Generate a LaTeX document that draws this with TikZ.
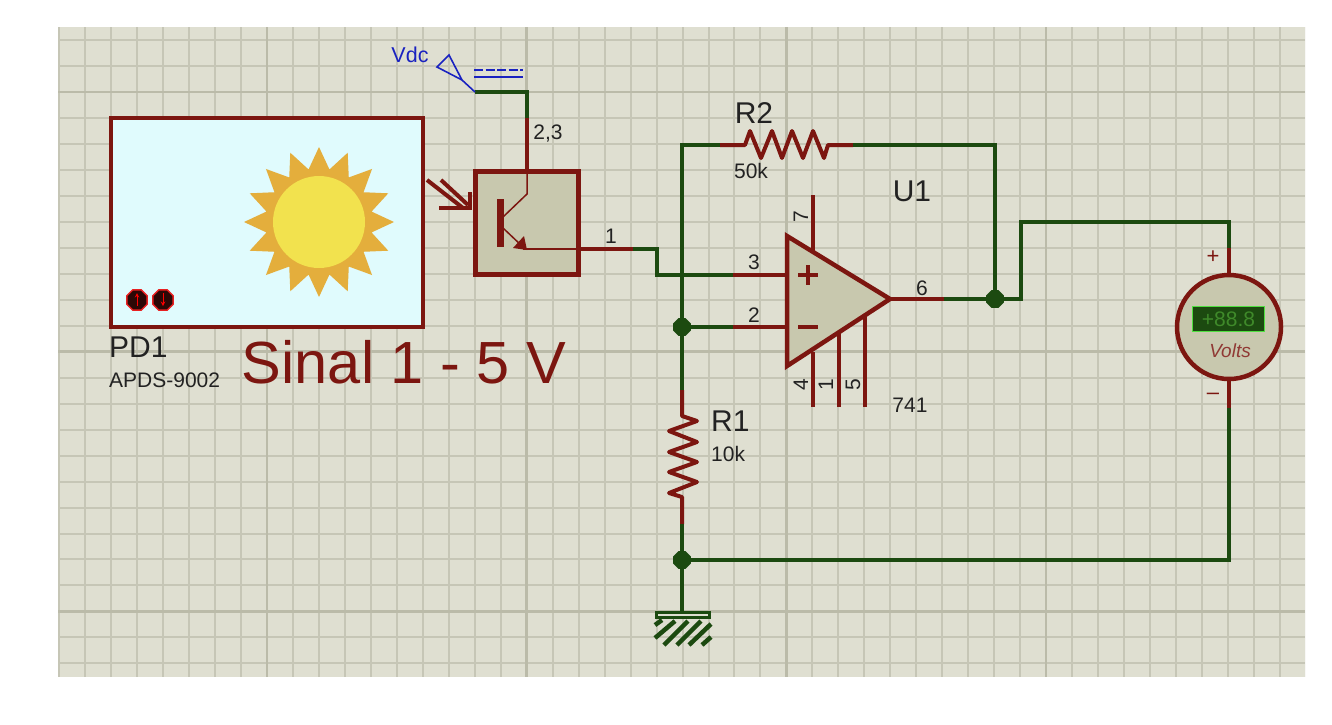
\documentclass[tikz,border=0pt]{standalone}
\usepackage{fontspec}
\setmainfont{Liberation Sans}
\usetikzlibrary{arrows,shapes.geometric,positioning}
\definecolor{sheet}{HTML}{DFDFD1}
\definecolor{gridminor}{HTML}{C6C6B6}
\definecolor{gridmajor}{HTML}{BBBBA9}
\definecolor{pinred}{HTML}{7C1610}
\definecolor{wiregreen}{HTML}{1C4A10}
\definecolor{body}{HTML}{C8C8AE}
\definecolor{sky}{HTML}{E0FBFD}
\definecolor{probe}{HTML}{1A22C0}
\definecolor{inktext}{HTML}{222222}
\definecolor{sunray}{HTML}{E4AE3C}
\definecolor{suncore}{HTML}{F2E24E}
\definecolor{lcdedge}{HTML}{50E040}
\definecolor{lcdtext}{HTML}{3F8A2A}
\definecolor{ledrim}{HTML}{E82020}
\newcommand{\fsize}[1]{\fontsize{#1}{#1}\selectfont}
\tikzset{
    wire/.style={draw=wiregreen, line width=4pt},
    pin/.style={draw=pinred, line width=4pt},
    thinpin/.style={draw=pinred, line width=1.5pt},
    box/.style={draw=pinred, line width=4.5pt, fill=body, inner sep=0pt},
    junction/.style={regular polygon, regular polygon sides=8, fill=wiregreen, inner sep=0pt, minimum size=19pt},
    big/.style={inner sep=0pt, text=inktext, font=\fsize{30}},
    small/.style={inner sep=0pt, text=inktext, font=\fsize{21}},
    led/.style={regular polygon, regular polygon sides=8, draw=ledrim, line width=1.5pt, fill=pinred!35!black, inner sep=0pt, minimum size=22pt}
}
\begin{document}
\begin{tikzpicture}[x=1pt, y=-1pt, >=stealth]
    \useasboundingbox (0,0) rectangle (1332,724);
    % sheet and grid
    \fill[sheet] (58,27) rectangle (1305,677);
    \begin{scope}
        \clip (58,27) rectangle (1305,677);
        \foreach \i in {-8,...,40}
            \draw[gridminor, line width=2pt] ({267+25.97*\i},27) -- ({267+25.97*\i},677);
        \foreach \j in {-2,...,22}
            \draw[gridminor, line width=2pt] (58,{92+25.97*\j}) -- (1305,{92+25.97*\j});
        \foreach \i in {0,10,20,30}
            \draw[gridmajor, line width=2.6pt] ({267+25.97*\i},27) -- ({267+25.97*\i},677);
        \foreach \j in {0,10,20}
            \draw[gridmajor, line width=2.6pt] (58,{92+25.97*\j}) -- (1305,{92+25.97*\j});
    \end{scope}

    % sensor panel
    \node[box, fill=sky, minimum width=312pt, minimum height=209pt] (panel) at (267,222.5) {};
    \node[star, star points=16, star point ratio=1.4, fill=sunray, minimum size=150pt, inner sep=0pt] (sunrays) at (319,222) {};
    \node[circle, fill=suncore, minimum size=92pt, inner sep=0pt] (sun) at (319,222) {};
    \node[led] (ledup) at (137,300) {};
    \node[led] (leddown) at (163,300) {};
    \draw[->, red, line width=1pt] (137,306) -- (137,293);
    \draw[->, red, line width=1pt] (163,293) -- (163,306);
    \node[big, anchor=west] (pd1) at (109,347) {PD1};
    \node[small, anchor=west] (pd1val) at (109,380) {APDS-9002};
    \node[inner sep=0pt, text=pinred, font=\fsize{59.5}] (signal) at (404,362) {Sinal 1 - 5 V};

    % light arrows
    \draw[pin] (427,180) -- (463,208);
    \draw[pin] (441,180) -- (468,205);
    \draw[pin] (439,208) -- (470,208) -- (470,192);

    % phototransistor
    \node[box, minimum size=103pt] (q1) at (527,223) {};
    \coordinate (q1c) at (527,171);
    \coordinate (q1e) at (579,249);
    \coordinate (q1cpin) at (527,118);
    \coordinate (q1epin) at (633,249);
    \coordinate (vdc) at (475,92);
    \fill[pinred] (497,199) rectangle (504,247);
    \draw[thinpin] (q1c) -- (527,194) -- (503,217);
    \draw[thinpin] (503,228) -- (522,246);
    \draw[thinpin] (523,249) -- (q1e);
    \fill[pinred] (513,248) -- (524,236) -- (527,250) -- cycle;
    \draw[pin] (q1c) -- (q1cpin);
    \draw[pin] (q1e) -- (q1epin);
    \draw[wire] (q1cpin) |- (vdc);
    \node[small] (lab23) at (548,134) {2,3};
    \node[small] (lab1) at (611,236) {1};

    % supply probe
    \draw[probe, line width=1.6pt] (vdc) -- (462,80) -- (449,55) -- (437,67) -- (462,80);
    \draw[probe, line width=1.6pt, dash pattern=on 9pt off 2.5pt] (474,70) -- (523,70);
    \draw[probe, line width=1.6pt] (474,77) -- (523,77);
    \node[inner sep=0pt, text=probe, font=\fsize{21.5}] (vdclab) at (410,55) {Vdc};

    % op amp
    \coordinate (u1a) at (787,236);
    \coordinate (u1b) at (890,299);
    \coordinate (u1c) at (787,366);
    \coordinate (u1in) at (786,275);
    \coordinate (u1inv) at (786,327);
    \coordinate (u1pin) at (733,275);
    \coordinate (u1pinv) at (733,327);
    \coordinate (u1outp) at (944,299);
    \draw[pin] (813,195) -- (813,252);
    \draw[pin] (813,352) -- (813,407);
    \draw[pin] (839,333) -- (839,407);
    \draw[pin] (865,316) -- (865,407);
    \draw[box] (u1a) -- (u1b) -- (u1c) -- cycle;
    \draw[pin] (798,275) -- (818,275) (808,265) -- (808,285);
    \draw[pin] (798,327) -- (818,327);
    \draw[pin] (u1pin) -- (u1in);
    \draw[pin] (u1pinv) -- (u1inv);
    \draw[pin] (u1b) -- (u1outp);
    \node[small] (lab3) at (754,262) {3};
    \node[small] (lab2) at (754,315) {2};
    \node[small] (lab6) at (922,288) {6};
    \node[small, rotate=90] (lab7) at (801,217) {7};
    \node[small, rotate=90] (lab4) at (801,385) {4};
    \node[small, rotate=90] (lab1b) at (826,385) {1};
    \node[small, rotate=90] (lab5) at (853,385) {5};
    \node[small] (u1val) at (910,405) {741};
    \node[big] (u1name) at (912,191) {U1};

    % input wiring
    \draw[wire] (q1epin) -- (657,249) |- (u1pin);

    % feedback resistor
    \coordinate (r2a) at (720,145);
    \coordinate (r2b) at (853,145);
    \draw[pin, line join=round] (r2a) -- (745,145) -- (750,131) -- (761,158) -- (772,131) -- (782,158) -- (792,131) -- (803,158) -- (813,131) -- (824,158) -- (828,145) -- (r2b);
    \node[big] (r2name) at (754,113) {R2};
    \node[small] (r2val) at (751,171) {50k};

    % lower resistor
    \coordinate (r1a) at (682,390);
    \coordinate (r1b) at (682,524);
    \draw[pin, line join=round] (r1a) -- (682,416) -- (697,421) -- (669,431) -- (697,442) -- (669,452) -- (697,462) -- (669,472) -- (697,482) -- (669,493) -- (682,497) -- (r1b);
    \node[big, anchor=west] (r1name) at (711,421) {R1};
    \node[small, anchor=west] (r1val) at (711,454) {10k};

    % voltmeter
    \node[circle, draw=pinred, line width=4.5pt, fill=body, minimum size=104pt, inner sep=0pt] (vm) at (1229,327) {};
    \coordinate (vmp) at (1229,248);
    \coordinate (vmn) at (1229,408);
    \draw[pin] (vmp) -- (vm);
    \draw[pin] (vmn) -- (vm);
    \node[draw=lcdedge, line width=1.5pt, fill=wiregreen, minimum width=72pt, minimum height=25pt, inner sep=0pt, text=lcdtext, font=\fsize{21}] (display) at (1228.5,319) {+88.8};
    \node[inner sep=0pt, text=pinred!85!white, font=\fsize{19}\itshape] (vmname) at (1230,351) {Volts};
    \node[inner sep=0pt, text=pinred, font=\fsize{22}] (vmplus) at (1213,257) {+};
    \node[inner sep=0pt, text=pinred, font=\fsize{22}] (vmminus) at (1213,396) {–};

    % junctions and ground
    \node[junction] (j1) at (682,327) {};
    \node[junction] (j2) at (682,560) {};
    \node[junction] (j3) at (995,299) {};
    \coordinate (gnd) at (682,612);
    \coordinate (wtop) at (682,145);
    \coordinate (outbend) at (1021,299);
    \coordinate (outtop) at (1021,222);
    \draw[wire] (r2a) -- (wtop) -- (j1);
    \draw[wire] (j1) -- (r1a);
    \draw[wire] (j1) -- (u1pinv);
    \draw[wire] (r1b) -- (j2);
    \draw[wire] (j2) -- (gnd);
    \draw[wire] (r2b) -| (j3);
    \draw[wire] (u1outp) -- (j3);
    \draw[wire] (j3) -- (outbend) -- (outtop) -| (vmp);
    \draw[wire] (vmn) |- (j2);
    \draw[wire, line width=3pt, fill=sheet] (656.5,612.5) rectangle (709.5,617.5);
    \draw[wire, line width=4.5pt] (655,625) -- (662,620) (655,638) -- (675,621) (664,645) -- (688,621)
        (677,645) -- (701,621) (689,645) -- (711,624) (702,645) -- (711,637);
\end{tikzpicture}
\end{document}
